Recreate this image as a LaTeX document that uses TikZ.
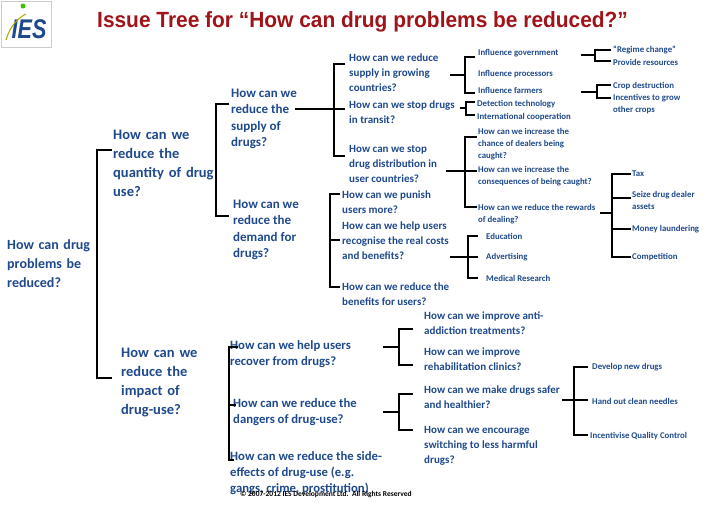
\documentclass[tikz,border=0pt]{standalone}
\usepackage{fontspec}
\setmainfont{Carlito}
\newfontfamily\titlefont{Liberation Sans}
\definecolor{tblue}{RGB}{31,73,140}
\definecolor{tred}{RGB}{160,20,25}
\begin{document}
\begin{tikzpicture}[x=1pt,y=-1pt,
  lA/.style={anchor=west,inner sep=0,align=left,text=tblue,font=\bfseries\fontsize{14.5}{19}\selectfont},
  lB/.style={anchor=west,inner sep=0,align=left,text=tblue,font=\bfseries\fontsize{11}{15}\selectfont},
  lC/.style={anchor=west,inner sep=0,align=left,text=tblue,font=\bfseries\fontsize{8.8}{12}\selectfont},
  ln/.style={line width=1.1pt,black}]
\useasboundingbox (0,0) rectangle (728,504);
% logo
\node[draw=gray!40,line width=0.6pt,minimum width=50,minimum height=46,anchor=north west,inner sep=0] (logo) at (1,1) {};
\node[text=tblue,font=\bfseries\itshape\fontsize{27}{27}\selectfont,xscale=0.8] (ies) at (29,29) {\titlefont IES};
\fill[green!50!olive] (23,6) circle (2.5);
\draw[olive!70!yellow,line width=1pt] (6,40) .. controls (10,26) and (18,18) .. (26,14);
% title
\node[anchor=west,inner sep=0,text=tred,font=\titlefont\bfseries\fontsize{22}{22}\selectfont,xscale=0.95] (title) at (97,22) {Issue Tree for “How can drug problems be reduced?”};
% root
\node[lA,text width=100,font=\bfseries\fontsize{14}{19}\selectfont] (root) at (7,264) {How can drug\\problems be\\reduced?};
\node[lA,text width=120] (qty) at (113,163) {How can we\\reduce the\\quantity of drug\\use?};
\node[lA,text width=100] (imp) at (121,383) {How can we\\reduce the\\impact of\\drug-use?};
\draw[ln] (112,150) -- (97,150) -- (97,378) -- (112,378);
% level 2 (quantity)
\node[lA,font=\bfseries\fontsize{13}{16.5}\selectfont] (sup) at (231,119) {How can we\\reduce the\\supply of\\drugs?};
\node[lA,font=\bfseries\fontsize{13}{16.5}\selectfont] (dem) at (233,230) {How can we\\reduce the\\demand for\\drugs?};
\draw[ln] (229,104) -- (216,104) -- (216,216) -- (229,216);
% supply children
\node[lB] (grow) at (349,73) {How can we reduce\\supply in growing\\countries?};
\node[lB] (tran) at (349,112) {How can we stop drugs\\in transit?};
\node[lB] (dist) at (349,164) {How can we stop\\drug distribution in\\user countries?};
\draw[ln] (345,64) -- (334,64) -- (334,156) -- (345,156);
\draw[ln] (295,109) -- (345,109);
% demand children
\node[lB] (pun) at (342,202) {How can we punish\\users more?};
\node[lB] (help) at (342,241) {How can we help users\\recognise the real costs\\and benefits?};
\node[lB] (ben) at (342,294) {How can we reduce the\\benefits for users?};
\draw[ln] (340,194) -- (330,194) -- (330,287) -- (340,287);
\draw[ln] (330,240) -- (340,240);
% growing
\node[lC] (gov) at (478,53) {Influence government};
\node[lC] (proc) at (478,74) {Influence processors};
\node[lC] (farm) at (478,90) {Influence farmers};
\draw[ln] (475,57) -- (465,57) -- (465,93) -- (475,93);
\draw[ln] (450,75) -- (465,75);
\node[lC] (reg) at (613,50) {“Regime change”};
\node[lC] (prov) at (613,62) {Provide resources};
\draw[ln] (581,55) -- (595,55); \draw[ln] (611,50) -- (595,50) -- (595,61) -- (611,61);
\node[lC] (crop) at (613,86) {Crop destruction};
\node[lC] (inc) at (613,104) {Incentives to grow\\other crops};
\draw[ln] (581,92) -- (597,92); \draw[ln] (611,85) -- (597,85) -- (597,98) -- (611,98);
% transit
\node[lC] (det) at (477,104) {Detection technology};
\node[lC] (intc) at (477,117) {International cooperation};
\draw[ln] (460,108) -- (466,108); \draw[ln] (475,102) -- (466,102) -- (466,115) -- (475,115);
% distribution
\node[lC] (chance) at (478,144) {How can we increase the\\chance of dealers being\\caught?};
\node[lC] (cons) at (478,176) {How can we increase the\\consequences of being caught?};
\node[lC] (rew) at (478,214) {How can we reduce the rewards\\of dealing?};
\draw[ln] (446,171) -- (465,171); \draw[ln] (477,137) -- (465,137) -- (465,207) -- (477,207);
\draw[ln] (465,171) -- (477,171);
\node[lC] (tax) at (632,174) {Tax};
\node[lC] (seize) at (632,200) {Seize drug dealer\\assets};
\node[lC] (money) at (632,229) {Money laundering};
\node[lC] (comp) at (632,257) {Competition};
\draw[ln] (600,213) -- (612,213); \draw[ln] (631,174) -- (612,174) -- (612,257) -- (631,257);
\draw[ln] (612,198) -- (631,198); \draw[ln] (612,229) -- (631,229);
% help recognise
\node[lC] (edu) at (486,236) {Education};
\node[lC] (adv) at (486,257) {Advertising};
\node[lC] (med) at (486,278) {Medical Research};
\draw[ln] (450,257) -- (478,257); \draw[ln] (478,236) -- (468,236) -- (468,278) -- (478,278);
% impact level 2
\node[lA,font=\bfseries\fontsize{12.7}{15.5}\selectfont] (rec) at (230,354) {How can we help users\\recover from drugs?};
\node[lA,font=\bfseries\fontsize{12.7}{15.5}\selectfont] (dang) at (233,412) {How can we reduce the\\dangers of drug-use?};
\node[lA,font=\bfseries\fontsize{12.7}{16}\selectfont] (side) at (230,473) {How can we reduce the side-\\effects of drug-use (e.g.\\gangs, crime, prostitution)};
\draw[ln] (238,347) -- (229,347) -- (229,460) -- (234,460); \draw[ln] (229,405) -- (236,405);
% recover children
\node[lB] (anti) at (424,323) {How can we improve anti-\\addiction treatments?};
\node[lB] (rehab) at (424,359) {How can we improve\\rehabilitation clinics?};
\draw[ln] (383,347) -- (399,347); \draw[ln] (413,329) -- (399,329) -- (399,365) -- (413,365);
% dangers children
\node[lB] (safe) at (424,397) {How can we make drugs safer\\and healthier?};
\node[lB] (enc) at (424,446) {How can we encourage\\switching to less harmful\\drugs?};
\draw[ln] (383,412) -- (399,412); \draw[ln] (413,394) -- (399,394) -- (399,430) -- (413,430);
% safer children
\node[lC] (dev) at (592,367) {Develop new drugs};
\node[lC] (hand) at (592,401) {Hand out clean needles};
\node[lC] (qual) at (590,436) {Incentivise Quality Control};
\draw[ln] (562,400) -- (588,400); \draw[ln] (588,367) -- (574,367) -- (574,435) -- (588,435);
% footer
\node[anchor=west,inner sep=0,font=\bfseries\fontsize{7.5}{8}\selectfont] (copy) at (240,494) {© 2007-2012 IES Development Ltd.\ \ All Rights Reserved};
\end{tikzpicture}
\end{document}
